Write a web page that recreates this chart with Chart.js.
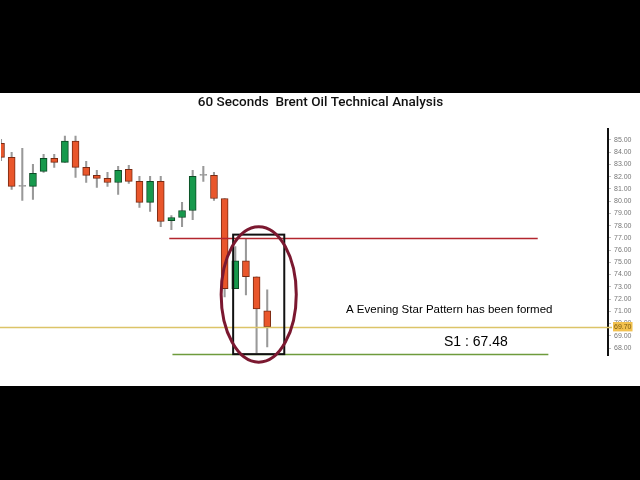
<!DOCTYPE html>
<html>
<head>
<meta charset="utf-8">
<title>60 Seconds Brent Oil Technical Analysis</title>
<script src="https://cdn.jsdelivr.net/npm/chart.js@4.4.1/dist/chart.umd.min.js"></script>
<style>
	html, body { margin: 0; padding: 0; background: #000; }
	#wrap { width: 640px; height: 480px; position: relative; }
</style>
</head>
<body>
<div id="wrap"><canvas id="chart" width="640" height="480"></canvas></div>
<script>
// one candle per minute slot, the rest of the axis is left empty
const slotCount = 58;
const opens  = [84.72, 83.57, 81.20, 81.20, 82.43, 83.49, 83.16, 84.89, 82.75, 82.10, 81.85, 81.52, 82.59, 81.61, 79.89, 81.61, 78.41, 78.66, 79.23, 82.10, 82.10, 80.21, 72.84, 75.13, 73.82, 71.03];
const highs  = [85.05, 83.98, 84.31, 83.00, 83.82, 83.82, 85.30, 85.30, 83.25, 82.51, 82.34, 82.84, 82.92, 82.02, 82.02, 82.02, 78.82, 79.89, 82.51, 82.84, 82.34, 80.21, 76.28, 76.93, 73.82, 72.75];
const lows   = [83.30, 80.95, 80.05, 80.13, 82.34, 82.75, 83.16, 81.93, 81.52, 81.11, 81.20, 80.54, 81.44, 79.48, 79.15, 77.92, 77.67, 77.92, 78.49, 81.61, 80.05, 72.18, 72.84, 72.34, 67.59, 68.08];
const closes = [83.57, 81.20, 81.20, 82.26, 83.49, 83.16, 84.89, 82.75, 82.10, 81.85, 81.52, 82.51, 81.61, 79.89, 81.61, 78.33, 78.66, 79.23, 82.02, 82.10, 80.21, 72.84, 75.13, 73.82, 71.20, 69.72];

const yTicks = [85, 84, 83, 82, 81, 80, 79, 78, 77, 76, 75, 74, 73, 72, 71, 70, 69, 68];
const pivotLevel = 69.70;
const resistanceLevel = 77.00;
const supportLevel = 67.48;

const xLabels = Array.from({ length: slotCount }, (_, i) => String(i + 1));

const UP = '#16994c';
const UP_EDGE = '#0b4a24';
const DOWN = '#e9562b';
const DOWN_EDGE = '#7a2a12';
const FLAT = '#9a9a9a';

const fills = opens.map((o, i) => (closes[i] > o ? UP : closes[i] < o ? DOWN : FLAT));
const edges = opens.map((o, i) => (closes[i] > o ? UP_EDGE : closes[i] < o ? DOWN_EDGE : FLAT));

const pageBands = {
	id: 'pageBands',
	beforeDraw(chart) {
		const { ctx } = chart;
		ctx.save();
		ctx.fillStyle = '#000';
		ctx.fillRect(0, 0, chart.width, chart.height);
		ctx.fillStyle = '#fff';
		ctx.fillRect(0, 93, chart.width, 293);
		ctx.restore();
	},
};

const levels = {
	id: 'levels',
	afterDraw(chart) {
		const { ctx } = chart;
		const x = chart.scales.x;
		const y = chart.scales.y;

		const hline = (value, from, to, color, width) => {
			const py = Math.round(y.getPixelForValue(value)) + 0.5;
			ctx.strokeStyle = color;
			ctx.lineWidth = width;
			ctx.beginPath();
			ctx.moveTo(from, py);
			ctx.lineTo(to, py);
			ctx.stroke();
		};

		const at = (slot) => x.getPixelForValue(0) + slot * (x.getPixelForValue(1) - x.getPixelForValue(0));

		ctx.save();
		hline(resistanceLevel, at(15.8), at(50.4), '#b3262e', 1.5);
		hline(pivotLevel, 0, 612, '#dcc468', 1.5);
		hline(supportLevel, at(16.1), at(51.4), '#6e9b3c', 1.5);

		// evening star box + ellipse
		const left = at(21.8);
		const right = at(26.6);
		const top = y.getPixelForValue(77.26);
		const bottom = y.getPixelForValue(67.5);
		ctx.strokeStyle = '#111';
		ctx.lineWidth = 2;
		ctx.strokeRect(left, top, right - left, bottom - top);

		const cx = (left + right) / 2;
		const cy = (top + bottom) / 2;
		ctx.strokeStyle = '#7b1830';
		ctx.lineWidth = 3;
		ctx.beginPath();
		ctx.ellipse(cx, cy, (right - left) / 2 + 12, (bottom - top) / 2 + 8, 0, 0, Math.PI * 2);
		ctx.stroke();

		ctx.fillStyle = '#000';
		ctx.textBaseline = 'middle';
		ctx.textAlign = 'left';
		ctx.font = '11.5px "Liberation Sans", Arial, sans-serif';
		ctx.fillText('A Evening Star Pattern has been formed', 346, 310);
		ctx.font = '14px "Liberation Sans", Arial, sans-serif';
		ctx.fillText('S1 : ' + supportLevel.toFixed(2), 444, 342);
		ctx.restore();
	},
};

new Chart(document.getElementById('chart'), {
	type: 'bar',
	data: {
		labels: xLabels,
		datasets: [
			{
				label: 'Wick',
				data: lows.map((low, i) => [low, highs[i]]),
				backgroundColor: '#999',
				barThickness: 1.4,
				grouped: false,
				order: 2,
			},
			{
				label: 'Body',
				data: opens.map((open, i) => [open, closes[i]]),
				backgroundColor: fills,
				borderColor: edges,
				borderWidth: 1,
				borderSkipped: false,
				barThickness: 7,
				minBarLength: 1,
				grouped: false,
				order: 1,
			},
		],
	},
	options: {
		responsive: false,
		animation: false,
		layout: { padding: { top: 93, bottom: 125, left: 1, right: 0 } },
		plugins: {
			legend: { display: false },
			tooltip: { enabled: false },
			title: {
				display: true,
				text: '60 Seconds  Brent Oil Technical Analysis',
				color: '#111',
				font: { family: 'Roboto', size: 13.5, weight: '500' },
				padding: { top: 2, bottom: 18 },
			},
		},
		scales: {
			x: {
				display: false,
				offset: false,
			},
			y: {
				position: 'right',
				min: 67.43,
				max: 85.87,
				afterBuildTicks: (scale) => {
					scale.ticks = [...yTicks, pivotLevel].map((value) => ({ value }));
				},
				afterFit: (scale) => {
					scale.width = 32;
				},
				border: { color: '#111', width: 2 },
				grid: { drawOnChartArea: false, tickLength: 3, color: '#bbb' },
				ticks: {
					autoSkip: false,
					padding: 3,
					font: { family: '"Liberation Sans", Arial, sans-serif', size: 7 },
					color: (ctx) => (ctx.tick.value === pivotLevel ? '#7a5a10' : '#777'),
					showLabelBackdrop: (ctx) => ctx.tick.value === pivotLevel,
					backdropColor: '#f2c14e',
					backdropPadding: { top: 1, bottom: 0, left: 1, right: 1 },
					callback: (value) => Number(value).toFixed(2),
				},
			},
		},
	},
	plugins: [pageBands, levels],
});
</script>
</body>
</html>
